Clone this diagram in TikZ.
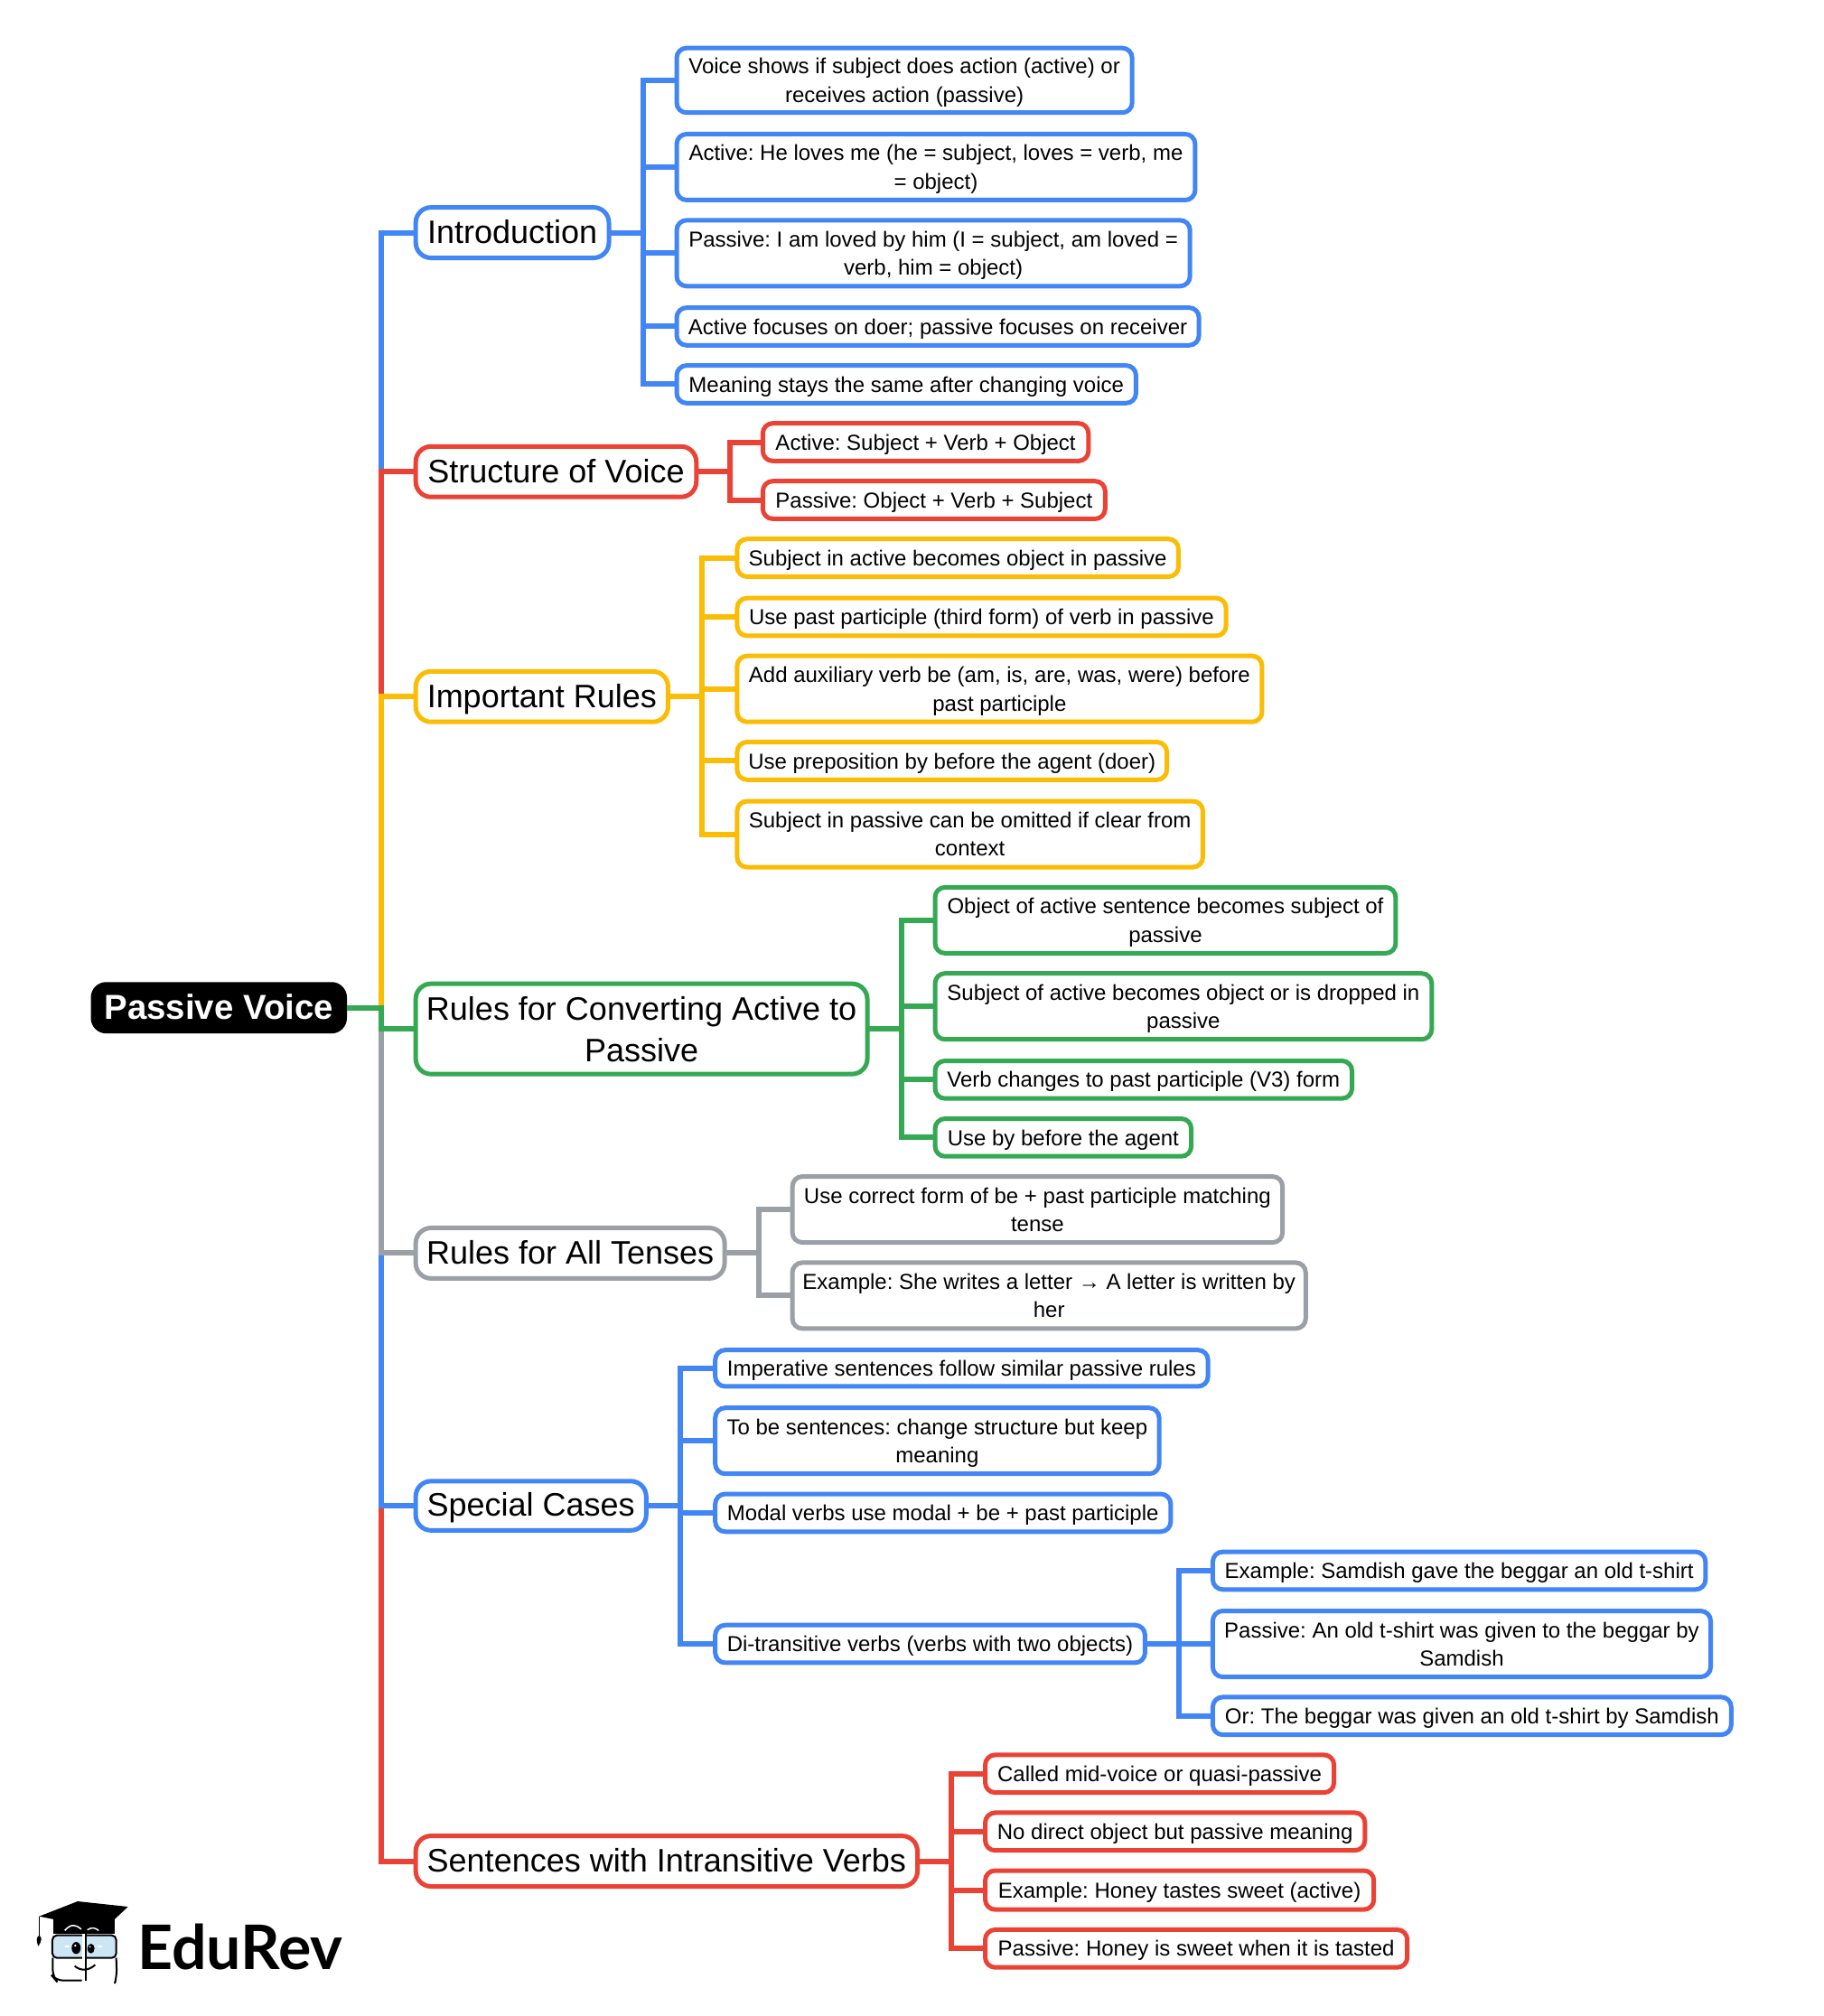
\documentclass[tikz,border=0pt]{standalone}
\usepackage{fontspec}
\setmainfont{Liberation Sans}
\newfontfamily\brandfont{Lato}
\usepackage{xcolor}
\definecolor{mapblue}{HTML}{4285F4}
\definecolor{mapred}{HTML}{EA4335}
\definecolor{mapyellow}{HTML}{FBBC04}
\definecolor{mapgreen}{HTML}{34A853}
\definecolor{mapgrey}{HTML}{9AA0A6}
\definecolor{lensblue}{HTML}{CDE6F5}
\tikzset{
  evenlines/.style={execute at begin node={\rule[-0.32em]{0pt}{#1}}},
  boxed/.style={draw, line width=5pt, fill=white, inner sep=0pt, outer sep=0pt, align=center, text=black},
  leaf/.style={boxed, rounded corners=11pt, evenlines=1.36em, font=\fontsize{24}{31.3}\selectfont\frenchspacing},
  branch/.style={boxed, rounded corners=17pt, evenlines=1.3em, font=\fontsize{36}{46}\selectfont},
  rootbox/.style={fill=black, rounded corners=17pt, inner sep=0pt, outer sep=0pt, align=center,
    text=white, evenlines=1.3em, font=\fontsize{38.4}{46}\selectfont\bfseries},
  link/.style={line width=6pt, line join=miter}
}
% corners are given as left, right, top, bottom
\newcommand\mapnode[7][leaf]{
  \node[#1, minimum width={(#4-#3)*1.423pt-1pt}, minimum height={(#6-#5)*1.423pt-1pt}]
    (#2) at ({(#3+#4)/2},{(#5+#6)/2}) {#7};
}
\newcommand\linepair[2]{\rule{0pt}{1.04em}#1\\#2\rule[-0.32em]{0pt}{0.32em}}
\newcommand\branchlinks[3]{
  \foreach \kid in {#3}
    \draw[link, #2] (#1.east) -- ++(26.5,0) |- (\kid.west);
}

\begin{document}
\begin{tikzpicture}[x=1.423pt, y=-1.423pt]

  \useasboundingbox (0,0) rectangle (1418.8,1568.5);

  \mapnode[rootbox]{root}{70.3}{270.2}{763.7}{804.4}{Passive Voice}

  \mapnode[branch, draw=mapblue]{intro}{323}{474}{161}{201}{Introduction}
  \mapnode[branch, draw=mapred]{structure}{323}{542}{347}{387}{Structure of Voice}
  \mapnode[branch, draw=mapyellow]{rules}{323}{520}{522}{562}{Important Rules}
  \mapnode[branch, draw=mapgreen]{convert}{323}{675}{765}{836}{\linepair{Rules for Converting Active to}{Passive}}
  \mapnode[branch, draw=mapgrey]{tenses}{323}{564}{955}{995}{Rules for All Tenses}
  \mapnode[branch, draw=mapblue]{special}{323}{503}{1152}{1191}{Special Cases}
  \mapnode[branch, draw=mapred]{intrans}{323}{714}{1428}{1468}{Sentences with Intransitive Verbs}

  \mapnode[leaf, draw=mapblue]{introA}{526}{881}{37}{88}{\linepair{Voice shows if subject does action (active) or}{receives action (passive)}}
  \mapnode[leaf, draw=mapblue]{introB}{526}{930}{104}{156}{\linepair{Active: He loves me (he = subject, loves = verb, me}{= object)}}
  \mapnode[leaf, draw=mapblue]{introC}{526}{926}{171}{223}{\linepair{Passive: I am loved by him (I = subject, am loved =}{verb, him = object)}}
  \mapnode[leaf, draw=mapblue]{introD}{526}{933}{239}{269}{Active focuses on doer; passive focuses on receiver}
  \mapnode[leaf, draw=mapblue]{introE}{526}{884}{284}{314}{Meaning stays the same after changing voice}

  \mapnode[leaf, draw=mapred]{structA}{593}{847}{329}{359}{Active: Subject + Verb + Object}
  \mapnode[leaf, draw=mapred]{structB}{593}{860}{374}{404}{Passive: Object + Verb + Subject}

  \mapnode[leaf, draw=mapyellow]{rulesA}{573}{917}{419}{449}{Subject in active becomes object in passive}
  \mapnode[leaf, draw=mapyellow]{rulesB}{573}{954}{465}{495}{Use past participle (third form) of verb in passive}
  \mapnode[leaf, draw=mapyellow]{rulesC}{573}{982}{510}{562}{\linepair{Add auxiliary verb be (am, is, are, was, were) before}{past participle}}
  \mapnode[leaf, draw=mapyellow]{rulesD}{573}{908}{577}{607}{Use preposition by before the agent (doer)}
  \mapnode[leaf, draw=mapyellow]{rulesE}{573}{936}{623}{675}{\linepair{Subject in passive can be omitted if clear from}{context}}

  \mapnode[leaf, draw=mapgreen]{convA}{727}{1086}{690}{742}{\linepair{Object of active sentence becomes subject of}{passive}}
  \mapnode[leaf, draw=mapgreen]{convB}{727}{1114}{757}{809}{\linepair{Subject of active becomes object or is dropped in}{passive}}
  \mapnode[leaf, draw=mapgreen]{convC}{727}{1052}{825}{855}{Verb changes to past participle (V3) form}
  \mapnode[leaf, draw=mapgreen]{convD}{727}{927}{870}{900}{Use by before the agent}

  \mapnode[leaf, draw=mapgrey]{tenseA}{616}{998}{915}{967}{\linepair{Use correct form of be + past participle matching}{tense}}
  \mapnode[leaf, draw=mapgrey]{tenseB}{616}{1016}{982}{1034}{\linepair{Example: She writes a letter → A letter is written by}{her}}

  \mapnode[leaf, draw=mapblue]{specA}{556}{940}{1050}{1079}{Imperative sentences follow similar passive rules}
  \mapnode[leaf, draw=mapblue]{specB}{556}{902}{1095}{1147}{\linepair{To be sentences: change structure but keep}{meaning}}
  \mapnode[leaf, draw=mapblue]{specC}{556}{911}{1162}{1192}{Modal verbs use modal + be + past participle}
  \mapnode[leaf, draw=mapblue]{specD}{556}{891}{1264}{1294}{Di-transitive verbs (verbs with two objects)}

  \mapnode[leaf, draw=mapblue]{ditrA}{943}{1327}{1207}{1237}{Example: Samdish gave the beggar an old t-shirt}
  \mapnode[leaf, draw=mapblue]{ditrB}{943}{1331}{1253}{1305}{\linepair{Passive: An old t-shirt was given to the beggar by}{Samdish}}
  \mapnode[leaf, draw=mapblue]{ditrC}{943}{1347}{1320}{1350}{Or: The beggar was given an old t-shirt by Samdish}

  \mapnode[leaf, draw=mapred]{intrA}{766}{1038}{1365}{1395}{Called mid-voice or quasi-passive}
  \mapnode[leaf, draw=mapred]{intrB}{766}{1062}{1410}{1440}{No direct object but passive meaning}
  \mapnode[leaf, draw=mapred]{intrC}{766}{1069}{1455}{1486}{Example: Honey tastes sweet (active)}
  \mapnode[leaf, draw=mapred]{intrD}{766}{1095}{1501}{1531}{Passive: Honey is sweet when it is tasted}

  % later ones lie over the trunk of the earlier ones
  \branchlinks{root}{mapblue}{intro}
  \branchlinks{root}{mapred}{structure}
  \branchlinks{root}{mapyellow}{rules}
  \branchlinks{root}{mapred}{intrans}
  \branchlinks{root}{mapblue}{special}
  \branchlinks{root}{mapgrey}{tenses}
  \branchlinks{root}{mapgreen}{convert}

  \branchlinks{intro}{mapblue}{introA,introB,introC,introD,introE}
  \branchlinks{structure}{mapred}{structA,structB}
  \branchlinks{rules}{mapyellow}{rulesA,rulesB,rulesC,rulesD,rulesE}
  \branchlinks{convert}{mapgreen}{convA,convB,convC,convD}
  \branchlinks{tenses}{mapgrey}{tenseA,tenseB}
  \branchlinks{special}{mapblue}{specA,specB,specC,specD}
  \branchlinks{specD}{mapblue}{ditrA,ditrB,ditrC}
  \branchlinks{intrans}{mapred}{intrA,intrB,intrC,intrD}

  % logo
  \begin{scope}[shift={(0pt,-2050pt)}, x=0.3333pt, y=-0.3333pt]
    \fill[black] (178,225) -- (380,225) -- (380,272) -- (178,272) -- cycle;
    \draw[white, line width=1.5pt] (215,262) .. controls (235,240) and (250,240) .. (270,258);
    \draw[white, line width=1.5pt] (290,260) .. controls (305,250) and (315,252) .. (328,262);
    \fill[black] (130,215) -- (258,165) -- (425,183) -- (345,258) -- cycle;
    \draw[black, line width=1.2pt] (130,215) -- (130,280);
    \fill[black] (130,278) .. controls (120,285) and (120,295) .. (127,314) .. controls (140,295) and (140,285) .. (130,278);
    \draw[black, line width=2pt, fill=lensblue, rounded corners=5pt] (174,278) rectangle (386,353);
    \draw[black, line width=2pt, rounded corners=8pt] (272,428) -- (186,428) -- (175,415) -- (175,353);
    \draw[black, line width=2pt, rounded corners=8pt] (386,353) -- (388,415) -- (384,428);
    \fill[white] (272,272) rectangle (288,430);
    \fill[black] (281,272) rectangle (288,430);
    \fill[black] (253,320) ellipse [x radius=15, y radius=20];
    \fill[black] (302,322) ellipse [x radius=12, y radius=16];
    \fill[white] (250,312) circle [radius=4];
    \fill[white] (299,316) circle [radius=3];
    \draw[white, line width=1.5pt] (215,315) -- (230,315) (340,315) -- (325,315);
    \draw[black, line width=2pt] (248,380) .. controls (270,398) and (295,395) .. (316,376);
    \node[anchor=base west, inner sep=0pt, text=black, font=\brandfont\fontsize{68}{70}\selectfont\bfseries] (brand) at (456,390) {EduRev};
  \end{scope}

\end{tikzpicture}
\end{document}
